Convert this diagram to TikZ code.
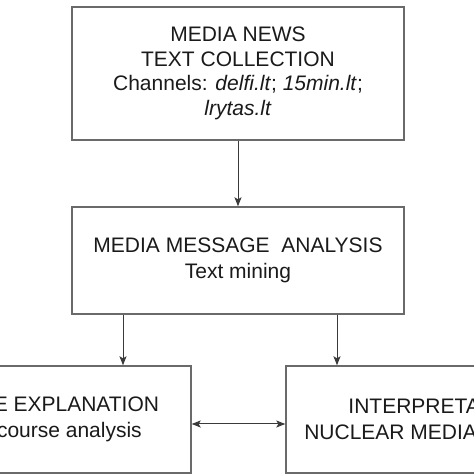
\documentclass[tikz,border=0pt]{standalone}
\usepackage{fontspec}
\setmainfont{Liberation Sans}
\usetikzlibrary{arrows.meta,positioning,calc}
\definecolor{BoxLine}{HTML}{6A6A6A}
\definecolor{FlowLine}{HTML}{3A3A3A}
\definecolor{InkText}{HTML}{1A1A1A}

\begin{document}
\begin{tikzpicture}[
    x=1pt, y=1pt,
    stage/.style={
      draw=BoxLine,
      line width=1.4pt,
      fill=white,
      align=center,
      text=InkText,
      minimum width=332pt,
      minimum height=107pt,
      inner sep=0pt,
      font=\fontsize{21}{25.5}\selectfont
    },
    flow/.style={
      line width=1pt,
      color=FlowLine,
      -{Stealth[length=9pt,width=7pt,inset=2pt]}
    }
  ]

  \useasboundingbox (0,0) rectangle (474,474);
  \clip (0,0) rectangle (474,474);

  % Collection
  \node[stage, minimum height=133pt, font=\fontsize{21}{24.5}\selectfont] (news) at (238,400.5)
    {MEDIA NEWS\\TEXT COLLECTION\\Channels: \textit{delfi.lt}; \textit{15min.lt};\\\textit{lrytas.lt}};

  % Analysis
  \node[stage] (msg) at (238,213.5) {MEDIA MESSAGE\ \ ANALYSIS\\Text mining};

  % Explanation and interpretation
  \node[stage, minimum width=340pt] (expl) at (21,54.5)
    {DISCOURSE EXPLANATION\\Critical discourse analysis};
  \node[stage, minimum width=340pt] (interp) at (456,54.5)
    {INTERPRETATION OF\\NUCLEAR MEDIA DISCOURSE};

  % Links
  \draw[flow] (news.south) -- (msg.north);
  \draw[flow] ([xshift=-115pt]msg.south) -- ([xshift=-115pt]msg.south |- expl.north);
  \draw[flow] ([xshift=99pt]msg.south) -- ([xshift=99pt]msg.south |- interp.north);
  \draw[flow, {Stealth[length=9pt,width=7pt,inset=2pt]}-{Stealth[length=9pt,width=7pt,inset=2pt]}]
    ([yshift=-4.5pt]expl.east) -- ([yshift=-4.5pt]interp.west);

\end{tikzpicture}
\end{document}
